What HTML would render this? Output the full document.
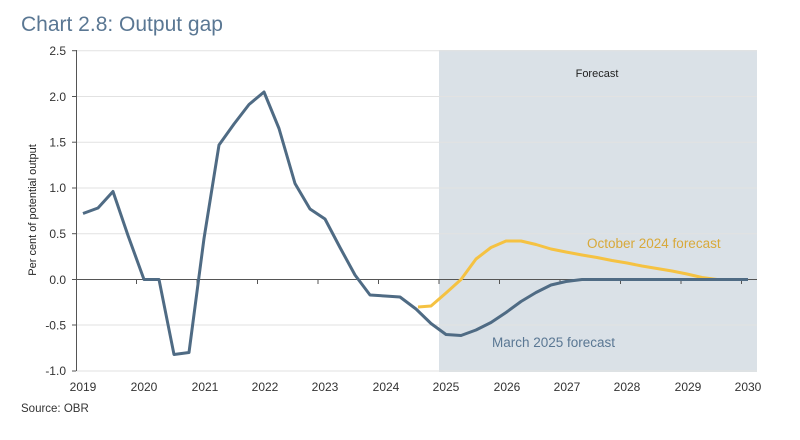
<!DOCTYPE html>
<html><head><meta charset="utf-8"><style>
body{margin:0;background:#fff;width:800px;height:435px;overflow:hidden;font-family:"Liberation Sans",sans-serif}
</style></head><body>
<svg width="800" height="435" xmlns="http://www.w3.org/2000/svg" font-family="Liberation Sans, sans-serif">
<text x="21" y="31" font-size="21" fill="#5a7793">Chart 2.8: Output gap</text>
<rect x="439" y="50" width="318" height="322" fill="#dae1e7"/>
<g stroke="#e2e2e2" stroke-width="1">
<line x1="76" y1="50.7" x2="757" y2="50.7"/>
<line x1="76" y1="96.5" x2="757" y2="96.5"/>
<line x1="76" y1="142.2" x2="757" y2="142.2"/>
<line x1="76" y1="188" x2="757" y2="188"/>
<line x1="76" y1="233.7" x2="757" y2="233.7"/>
<line x1="76" y1="325" x2="757" y2="325"/>
<line x1="76" y1="371" x2="757" y2="371"/>
</g>
<line x1="76.5" y1="50" x2="76.5" y2="371" stroke="#555" stroke-width="1"/>
<g stroke="#555" stroke-width="1">
<line x1="72" y1="50.7" x2="76" y2="50.7"/><line x1="72" y1="96.5" x2="76" y2="96.5"/><line x1="72" y1="142.2" x2="76" y2="142.2"/><line x1="72" y1="188" x2="76" y2="188"/><line x1="72" y1="233.7" x2="76" y2="233.7"/><line x1="72" y1="279.5" x2="76" y2="279.5"/><line x1="72" y1="325" x2="76" y2="325"/><line x1="72" y1="371" x2="76" y2="371"/>
<line x1="76" y1="279.5" x2="757" y2="279.5"/>
<line x1="136.5" y1="279.5" x2="136.5" y2="284"/><line x1="197" y1="279.5" x2="197" y2="284"/><line x1="257.5" y1="279.5" x2="257.5" y2="284"/><line x1="318" y1="279.5" x2="318" y2="284"/><line x1="378.5" y1="279.5" x2="378.5" y2="284"/><line x1="439" y1="279.5" x2="439" y2="284"/><line x1="499.5" y1="279.5" x2="499.5" y2="284"/><line x1="560" y1="279.5" x2="560" y2="284"/><line x1="620.5" y1="279.5" x2="620.5" y2="284"/><line x1="681" y1="279.5" x2="681" y2="284"/><line x1="741.5" y1="279.5" x2="741.5" y2="284"/>
</g>
<g font-size="12" fill="#333" text-anchor="end">
<text x="66" y="55">2.5</text><text x="66" y="101">2.0</text><text x="66" y="146.5">1.5</text><text x="66" y="192">1.0</text><text x="66" y="238">0.5</text><text x="66" y="284">0.0</text><text x="66" y="329.5">-0.5</text><text x="66" y="375">-1.0</text>
</g>
<g font-size="12" fill="#333" text-anchor="middle">
<text x="83" y="391">2019</text><text x="144" y="391">2020</text><text x="205" y="391">2021</text><text x="265" y="391">2022</text><text x="325" y="391">2023</text><text x="386" y="391">2024</text><text x="446" y="391">2025</text><text x="507" y="391">2026</text><text x="567" y="391">2027</text><text x="627" y="391">2028</text><text x="688" y="391">2029</text><text x="748" y="391">2030</text>
</g>
<text x="21" y="412" font-size="11.5" fill="#333">Source: OBR</text>
<text transform="translate(36,210) rotate(-90)" font-size="11" fill="#222" text-anchor="middle">Per cent of potential output</text>
<text x="597" y="77" font-size="11" fill="#222" text-anchor="middle">Forecast</text>
<polyline fill="none" stroke="#f5c242" stroke-width="3" stroke-linejoin="round" points="418,307 431,306 446,293 461,279.5 476,259 491,247.5 506,241 521,241 536,244.5 551,249 566,252 582,255 597,257.5 612,260.5 627,263 642,266 657,268.5 672,271 687,274 702,277.5 717,279.5 748,279.5"/>
<polyline fill="none" stroke="#4f6b84" stroke-width="3" stroke-linejoin="round" points="83,213.5 98,208 113,191.5 128,235.5 144,279.5 159,279.5 174,354.5 189,352.5 204,238.5 219,145 234,124 249,104.5 264,92 279,128.5 295,183.5 310,209 325,219 340,247.5 355,275 370,295 385,296 400,297 416,309 431,323.5 446,334.5 461,335.5 476,330 491,322.5 506,312.5 521,301.5 536,292.5 551,285 566,281.5 582,279.5 748,279.5"/>
<text x="587" y="248" font-size="13.5" fill="#d8a93a">October 2024 forecast</text>
<text x="492" y="347" font-size="13.5" fill="#5a7793">March 2025 forecast</text>
</svg>
</body></html>
